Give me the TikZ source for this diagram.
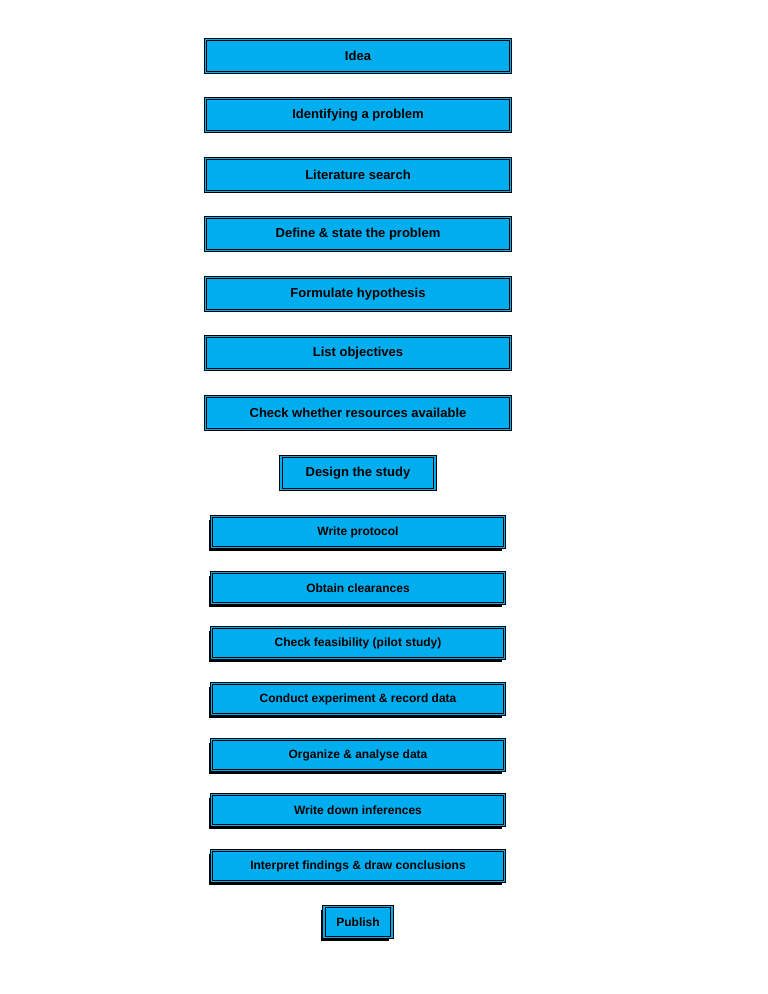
\documentclass[tikz,border=0pt]{standalone}
\usepackage{fontspec}
\setmainfont{Liberation Sans}
\usetikzlibrary{shadows}
\begin{document}
\begin{tikzpicture}[x=1pt,y=-1pt,
  box/.style={draw=black,double=cyan,double distance=1.6pt,line width=0.8pt,fill=cyan,
    font=\bfseries\fontsize{13}{15}\selectfont,inner sep=0pt,minimum height=33pt},
  topbox/.style={box,minimum width=305pt},
  lowbox/.style={box,minimum width=293pt,minimum height=31pt,font=\bfseries\fontsize{12}{14}\selectfont,
    drop shadow={shadow xshift=-3pt,shadow yshift=-3pt,fill=black,opacity=1}}]
\useasboundingbox (0,0) rectangle (768,994);
\fill[white] (0,0) rectangle (768,994);
\node[topbox] (n1) at (358,56) {Idea};
\node[topbox] (n2) at (358,115) {Identifying a problem};
\node[topbox] (n3) at (358,175) {Literature search};
\node[topbox] (n4) at (358,234) {Define \& state the problem};
\node[topbox] (n5) at (358,294) {Formulate hypothesis};
\node[topbox] (n6) at (358,353) {List objectives};
\node[topbox] (n7) at (358,413) {Check whether resources available};
\node[box,minimum width=154pt,inner xsep=4pt] (n8) at (358,473) {Design the study};
\node[lowbox] (n9) at (358,532) {Write protocol};
\node[lowbox] (n10) at (358,588) {Obtain clearances};
\node[lowbox] (n11) at (358,643) {Check feasibility (pilot study)};
\node[lowbox] (n12) at (358,699) {Conduct experiment \& record data};
\node[lowbox] (n13) at (358,755) {Organize \& analyse data};
\node[lowbox] (n14) at (358,810) {Write down inferences};
\node[lowbox] (n15) at (358,866) {Interpret findings \& draw conclusions};
\node[lowbox,minimum width=68pt] (n16) at (358,922) {Publish};
\end{tikzpicture}
\end{document}
